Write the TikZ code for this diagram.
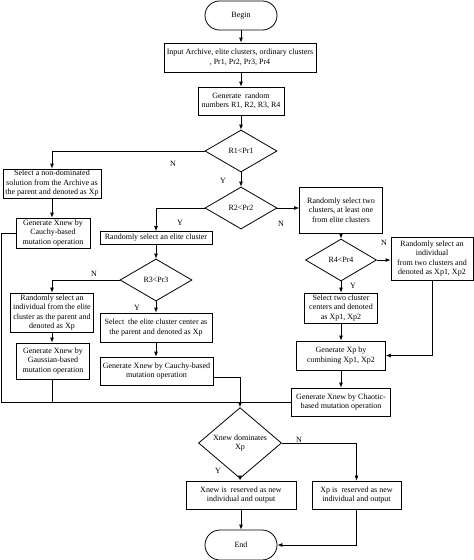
\documentclass[tikz,border=0pt]{standalone}
\usepackage{fontspec}
\setmainfont{Liberation Serif}
\usetikzlibrary{shapes.geometric,shapes.misc,arrows.meta}
\begin{document}
\begin{tikzpicture}[x=1pt,y=-1pt,
  every node/.style={font=\fontsize{8}{9.5}\selectfont},
  box/.style={draw,line width=0.8pt,align=center,inner sep=0.5pt},
  dia/.style={draw,line width=0.8pt,shape=diamond,inner sep=0pt,align=center},
  term/.style={draw,line width=0.8pt,shape=rounded rectangle,inner sep=0pt},
  arr/.style={line width=0.8pt,-{Latex[length=5pt,width=4pt]}},
  ln/.style={line width=0.8pt},
  lbl/.style={inner sep=0pt}
]
\useasboundingbox (0,0) rectangle (474,560);

\node[term,minimum width=72pt,minimum height=29pt] (begin) at (241,15.5) {Begin};
\node[box,minimum width=152pt,minimum height=29pt] (input) at (240,57.5) {Input Archive, elite clusters, ordinary clusters\\, Pr1, Pr2, Pr3, Pr4};
\node[box,minimum width=86pt,minimum height=28pt] (gen) at (241,101) {Generate\ \ random\\numbers R1, R2, R3, R4};
\node[dia,minimum width=72pt,minimum height=42pt] (r1) at (241,151) {R1<Pr1};
\node[box,minimum width=98pt,minimum height=29pt] (sel) at (52,183.5) {Select a non-dominated\\solution from the Archive as\\the parent and denoted as Xp};
\node[box,minimum width=74pt,minimum height=30pt] (cau1) at (53,233) {Generate Xnew by\\Cauchy-based\\mutation operation};
\node[dia,minimum width=72pt,minimum height=42pt] (r2) at (241,208) {R2<Pr2};
\node[box,minimum width=112pt,minimum height=13pt] (elite) at (156,238) {Randomly select an elite cluster};
\node[dia,minimum width=72pt,minimum height=42pt] (r3) at (156,280) {R3<Pr3};
\node[box,minimum width=83pt,minimum height=39pt] (ind) at (52,312.5) {Randomly select an\\individual from the elite\\cluster as the parent and\\denoted as Xp};
\node[box,minimum width=73pt,minimum height=36pt] (gau) at (53,361) {Generate Xnew by\\Gaussian-based\\mutation operation};
\node[box,minimum width=112pt,minimum height=29pt] (selc) at (156,327.5) {Select\ \ the elite cluster center as\\the parent and denoted as Xp};
\node[box,minimum width=113pt,minimum height=28pt] (cau2) at (156.5,371) {Generate Xnew by Cauchy-based\\mutation operation};
\node[box,minimum width=83pt,minimum height=46pt] (two) at (341,210) {Randomly select two\\clusters, at least one\\from elite clusters};
\node[dia,minimum width=71pt,minimum height=42pt] (r4) at (341,260) {R4<Pr4};
\node[box,minimum width=82pt,minimum height=43pt] (indtwo) at (432,258.5) {Randomly select an\\individual\\from two clusters and\\denoted as Xp1, Xp2};
\node[box,minimum width=73pt,minimum height=30pt] (selt) at (341,308) {Select two cluster\\centers and denoted\\as Xp1, Xp2};
\node[box,minimum width=89pt,minimum height=29pt] (genxp) at (341,355.5) {Generate Xp by\\combining Xp1, Xp2};
\node[box,minimum width=99pt,minimum height=28pt] (cha) at (341,402) {Generate Xnew by Chaotic-\\based mutation operation};
\node[dia,minimum width=83pt,minimum height=49pt] (dom) at (240,443) {Xnew dominates\\Xp};
\node[box,minimum width=110pt,minimum height=28pt] (xnew) at (241,495) {Xnew is\ \ reserved as new\\individual and output};
\node[box,minimum width=89pt,minimum height=28pt] (xp) at (356.5,495) {Xp is\ \ reserved as new\\individual and output};
\node[term,minimum width=72pt,minimum height=30pt] (end) at (241,545) {End};

\coordinate (lb) at (1,402);

\draw[arr] (begin.south) -- (begin.south |- input.north);
\draw[arr] (gen.north |- input.south) -- (gen.north);
\draw[arr] (gen.south) -- (r1.north);
\draw[arr] (r1.west) -| (sel.north);
\draw[arr] (sel.south) -- (sel.south |- cau1.north);
\draw[ln] (cau1.west) -- (cau1.west -| lb) -- (lb) -- (cha.west);
\draw[arr] (r1.south) -- (r2.north);
\draw[arr] (r2.west) -| (elite.north);
\draw[arr] (elite.south) -- (r3.north);
\draw[arr] (r3.west) -| (ind.north);
\draw[arr] (ind.south) -- (ind.south |- gau.north);
\draw[ln] (ind.south |- gau.south) -- (ind.south |- lb);
\draw[arr] (r3.south) -- (r3.south |- selc.north);
\draw[arr] (r3.south |- selc.south) -- (r3.south |- cau2.north);
\draw[arr] ([yshift=-6pt]cau2.east) -| (dom.north);
\draw[arr] (r2.east) -- (r2.east -| two.west);
\draw[arr] (two.south) -- (r4.north);
\draw[arr] (r4.east) -- (r4.east -| indtwo.west);
\draw[arr] (indtwo.south) |- (genxp.east);
\draw[arr] (r4.south) -- (selt.north);
\draw[arr] (selt.south) -- (genxp.north);
\draw[arr] (genxp.south) -- (cha.north);
\draw[arr] (dom.east) -| (xp.north);
\draw[arr] (dom.south) -- (dom.south |- xnew.north);
\draw[arr] (end.north |- xnew.south) -- (end.north);
\draw[arr] (xp.south) |- (end.east);

\node[lbl] (n1) at (173,164) {N};
\node[lbl] (y1) at (223,181) {Y};
\node[lbl] (y2) at (180,223) {Y};
\node[lbl] (n2) at (281,224) {N};
\node[lbl] (n3) at (94,274) {N};
\node[lbl] (y3) at (137,308) {Y};
\node[lbl] (n4) at (384,243) {N};
\node[lbl] (y4) at (353,286) {Y};
\node[lbl] (n5) at (299,440) {N};
\node[lbl] (y5) at (218,471) {Y};
\end{tikzpicture}
\end{document}
